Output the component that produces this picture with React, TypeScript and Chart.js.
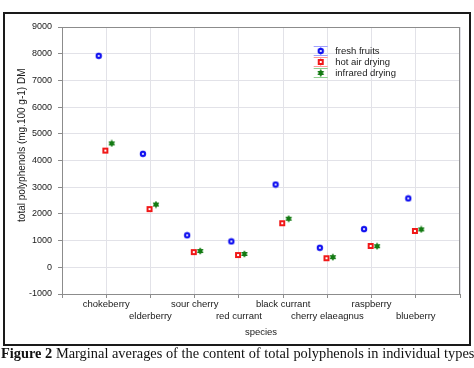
import React, { useEffect, useRef } from 'react';
import { Chart, registerables } from 'chart.js';

Chart.register(...registerables);

// ---- data ----
const categories = [
  'chokeberry',
  'elderberry',
  'sour cherry',
  'red currant',
  'black currant',
  'cherry elaeagnus',
  'raspberry',
  'blueberry',
];
const freshFruits = [7920, 4250, 1200, 970, 3100, 730, 1430, 2580];
const hotAirDrying = [4370, 2180, 570, 460, 1650, 340, 800, 1360];
const infraredDrying = [4640, 2350, 610, 500, 1820, 380, 790, 1420];
const seriesNames = ['fresh fruits', 'hot air drying', 'infrared drying'];
const yMin = -1000;
const yMax = 9000;
const yStep = 1000;

// small horizontal offsets of each series around its category
const seriesOffsets = [-0.17, -0.02, 0.125];

const FONT = '"Liberation Sans", Arial, sans-serif';

function makeMarker(kind: 'circle' | 'square' | 'star', color: string) {
  const c = document.createElement('canvas');
  c.width = 8;
  c.height = 8;
  const g = c.getContext('2d')!;
  g.fillStyle = color;
  if (kind === 'circle') {
    g.beginPath();
    g.arc(4, 4, 3.2, 0, Math.PI * 2);
    g.fill();
    g.fillStyle = '#ffffff';
    g.beginPath();
    g.arc(4, 4, 1.1, 0, Math.PI * 2);
    g.fill();
  } else if (kind === 'square') {
    g.fillRect(1, 1, 6, 6);
    g.fillStyle = '#ffffff';
    g.fillRect(3, 3, 2, 2);
  } else {
    g.beginPath();
    const n = 6;
    for (let i = 0; i < n * 2; i++) {
      const r = i % 2 === 0 ? 3.8 : 2.2;
      const a = (Math.PI / n) * i - Math.PI / 2;
      const x = 4 + r * Math.cos(a);
      const y = 4 + r * Math.sin(a);
      if (i === 0) g.moveTo(x, y);
      else g.lineTo(x, y);
    }
    g.closePath();
    g.fill();
  }
  return c;
}

export default function App() {
  const ref = useRef<HTMLCanvasElement | null>(null);

  useEffect(() => {
    if (!ref.current) return;
    const markers = [
      makeMarker('circle', '#1010f0'),
      makeMarker('square', '#f01818'),
      makeMarker('star', '#137a13'),
    ];
    const lightColors = ['#a0a0ff', '#ff9a9a', '#8fcf8f'];
    const values = [freshFruits, hotAirDrying, infraredDrying];

    const datasets = values.map((arr, s) => ({
      label: seriesNames[s],
      data: arr.map((v, i) => ({ x: i + 1 + seriesOffsets[s], y: v })),
      pointStyle: markers[s] as any,
      pointRadius: 4,
      showLine: false,
    }));

    const boxLegend = {
      id: 'boxLegend',
      afterDraw(chart: any) {
        const { ctx, chartArea: a } = chart;
        ctx.save();
        ctx.strokeStyle = '#8c8c8c';
        ctx.lineWidth = 1;
        ctx.beginPath();
        ctx.moveTo(a.left, a.top + 0.5);
        ctx.lineTo(a.right, a.top + 0.5);
        ctx.moveTo(a.right - 0.5, a.top);
        ctx.lineTo(a.right - 0.5, a.bottom);
        ctx.stroke();

        const mx = a.left + (a.right - a.left) * 0.65;
        const y0 = a.top + 24;
        const dy = 11;
        ctx.font = `9.5px ${FONT}`;
        ctx.textBaseline = 'middle';
        ctx.textAlign = 'left';
        seriesNames.forEach((name, i) => {
          const y = y0 + i * dy;
          ctx.strokeStyle = lightColors[i];
          ctx.lineWidth = 1;
          ctx.beginPath();
          ctx.moveTo(mx - 7, y - 4.5);
          ctx.lineTo(mx + 7, y - 4.5);
          ctx.moveTo(mx - 7, y + 4.5);
          ctx.lineTo(mx + 7, y + 4.5);
          ctx.moveTo(mx, y - 4.5);
          ctx.lineTo(mx, y + 4.5);
          ctx.stroke();
          const m = markers[i];
          ctx.drawImage(m, mx - m.width / 2, y - m.height / 2);
          ctx.fillStyle = '#1a1a1a';
          ctx.fillText(name, mx + 14.5, y);
        });
        ctx.restore();
      },
    };

    const chart = new Chart(ref.current, {
      type: 'scatter',
      data: { datasets: datasets as any },
      plugins: [boxLegend],
      options: {
        responsive: false,
        animation: false,
        layout: { padding: { left: 0, top: 27, right: 14, bottom: 0 } },
        plugins: {
          legend: { display: false },
          tooltip: { enabled: false },
        },
        scales: {
          x: {
            type: 'linear',
            min: 0,
            max: categories.length + 1,
            afterBuildTicks: (s: any) => {
              s.ticks = Array.from({ length: categories.length + 2 }, (_, i) => ({ value: i }));
            },
            afterFit: (s: any) => {
              s.height = 74;
            },
            ticks: {
              autoSkip: false,
              maxRotation: 0,
              minRotation: 0,
              padding: 1,
              color: '#1a1a1a',
              font: { family: FONT, size: 9.5 },
              callback: (v: any) => {
                const i = Math.round(Number(v));
                if (i < 1 || i > categories.length) return '';
                const name = categories[i - 1];
                return i % 2 === 1 ? [name] : ['', name];
              },
            },
            grid: {
              color: '#e2e2e8',
              tickColor: '#8c8c8c',
              tickLength: 4,
              drawTicks: true,
            },
            border: { color: '#8c8c8c' },
            title: {
              display: true,
              text: 'species',
              color: '#1a1a1a',
              font: { family: FONT, size: 9.5 },
              padding: { top: 0, bottom: 30 },
            },
          },
          y: {
            min: yMin,
            max: yMax,
            afterFit: (s: any) => {
              s.width = 62;
            },
            ticks: {
              stepSize: yStep,
              padding: 6,
              color: '#1a1a1a',
              font: { family: FONT, size: 9 },
              callback: (v: any) => String(v),
            },
            grid: {
              color: '#e2e2e8',
              tickColor: '#8c8c8c',
              tickLength: 4,
              drawTicks: true,
            },
            border: { color: '#8c8c8c' },
            title: {
              display: true,
              text: '           total polyphenols (mg.100 g-1) DM',
              color: '#1a1a1a',
              font: { family: FONT, size: 10 },
              padding: { top: 16, bottom: 0 },
            },
          },
        },
      },
    });
    return () => chart.destroy();
  }, []);

  return (
    <div
      style={{
        position: 'absolute',
        left: 0,
        top: 0,
        width: 474,
        height: 368,
        overflow: 'hidden',
        background: '#ffffff',
      }}
    >
      <canvas ref={ref} width={474} height={368} style={{ position: 'absolute', left: 0, top: 0 }} />
      <div
        style={{
          position: 'absolute',
          left: 3,
          top: 12,
          width: 468,
          height: 334,
          boxSizing: 'border-box',
          border: '2px solid #1a1a1a',
          pointerEvents: 'none',
        }}
      />
      <div
        style={{
          position: 'absolute',
          left: 1,
          top: 345,
          whiteSpace: 'nowrap',
          fontFamily: '"Liberation Serif", "Times New Roman", serif',
          fontSize: 14.4,
          lineHeight: '16px',
          color: '#111',
        }}
      >
        <b>Figure 2</b> Marginal averages of the content of total polyphenols in individual types
      </div>
    </div>
  );
}
